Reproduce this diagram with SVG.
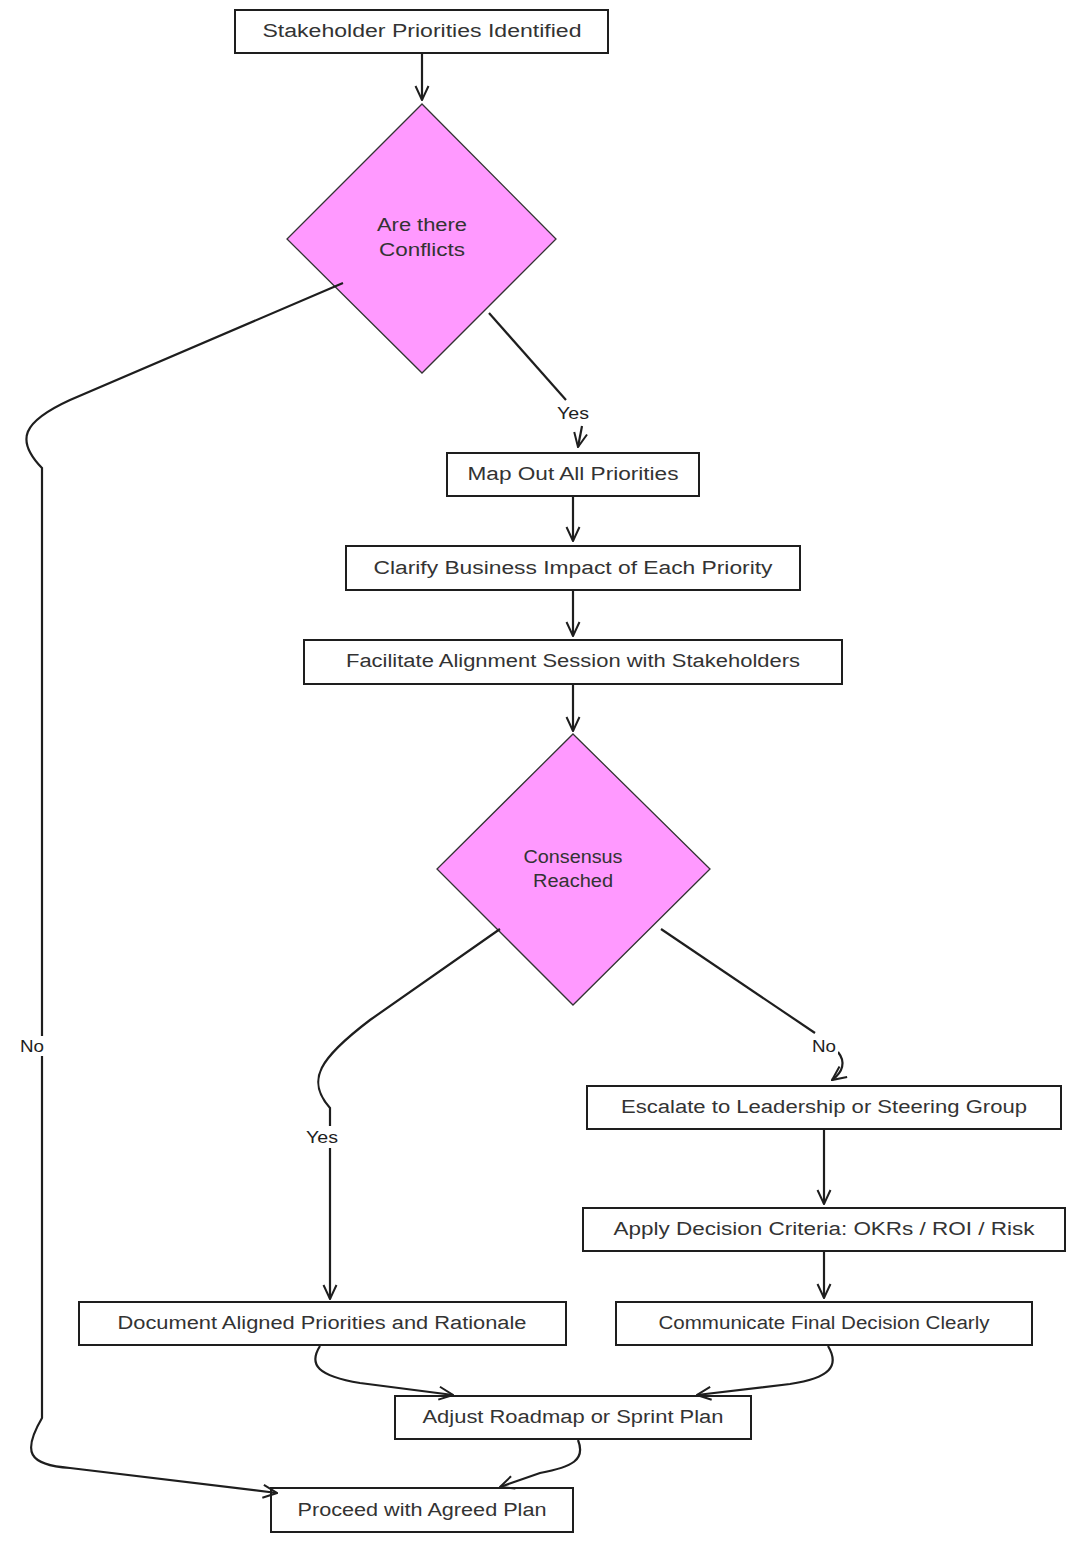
<svg xmlns="http://www.w3.org/2000/svg" width="1075" height="1543" viewBox="0 0 1075 1543">
<defs>
<style>
.box{fill:#ffffff;stroke:#1e1e1e;stroke-width:2}
.dia{fill:#ff99ff;stroke:#333333;stroke-width:1.3}
.lbl{font-family:"Liberation Sans",Arial,sans-serif;font-size:18px;fill:#333333;text-anchor:middle;dominant-baseline:central}
.elbl{font-family:"Liberation Sans",Arial,sans-serif;font-size:17px;fill:#1e1e1e;text-anchor:middle;dominant-baseline:central}
.edge{fill:none;stroke:#1e1e1e;stroke-width:2.2}
.bg{fill:#ffffff}
</style>
<marker id="arr" viewBox="0 0 16 16" refX="15" refY="8" markerWidth="16" markerHeight="16" markerUnits="userSpaceOnUse" orient="auto">
<path d="M1,1.5 L15,8 L1,14.5" fill="none" stroke="#1e1e1e" stroke-width="2"/>
</marker>
</defs>
<rect width="1075" height="1543" fill="#ffffff"/>

<g id="n1">
<rect class="box" x="235" y="10" width="373" height="43"/>
<text class="lbl" x="422" y="31" textLength="319" lengthAdjust="spacingAndGlyphs">Stakeholder Priorities Identified</text>
</g>
<g id="d1">
<polygon class="dia" points="422,104 556,239 422,373 287,239"/>
<text class="lbl" x="422" y="225" textLength="90" lengthAdjust="spacingAndGlyphs">Are there</text>
<text class="lbl" x="422" y="250" textLength="86" lengthAdjust="spacingAndGlyphs">Conflicts</text>
</g>
<g id="n2">
<rect class="box" x="447" y="453" width="252" height="43"/>
<text class="lbl" x="573" y="474" textLength="211" lengthAdjust="spacingAndGlyphs">Map Out All Priorities</text>
</g>
<g id="n3">
<rect class="box" x="346" y="546" width="454" height="44"/>
<text class="lbl" x="573" y="568" textLength="399" lengthAdjust="spacingAndGlyphs">Clarify Business Impact of Each Priority</text>
</g>
<g id="n4">
<rect class="box" x="304" y="640" width="538" height="44"/>
<text class="lbl" x="573" y="661" textLength="454" lengthAdjust="spacingAndGlyphs">Facilitate Alignment Session with Stakeholders</text>
</g>
<g id="d2">
<polygon class="dia" points="573,734 710,869 573,1005 437,869"/>
<text class="lbl" x="573" y="857" textLength="99" lengthAdjust="spacingAndGlyphs">Consensus</text>
<text class="lbl" x="573" y="881" textLength="80" lengthAdjust="spacingAndGlyphs">Reached</text>
</g>
<g id="n5">
<rect class="box" x="587" y="1086" width="474" height="43"/>
<text class="lbl" x="824" y="1107" textLength="406" lengthAdjust="spacingAndGlyphs">Escalate to Leadership or Steering Group</text>
</g>
<g id="n6">
<rect class="box" x="583" y="1208" width="482" height="43"/>
<text class="lbl" x="824" y="1229" textLength="421" lengthAdjust="spacingAndGlyphs">Apply Decision Criteria: OKRs / ROI / Risk</text>
</g>
<g id="n7">
<rect class="box" x="616" y="1302" width="416" height="43"/>
<text class="lbl" x="824" y="1323" textLength="331" lengthAdjust="spacingAndGlyphs">Communicate Final Decision Clearly</text>
</g>
<g id="n8">
<rect class="box" x="79" y="1302" width="487" height="43"/>
<text class="lbl" x="322" y="1323" textLength="409" lengthAdjust="spacingAndGlyphs">Document Aligned Priorities and Rationale</text>
</g>
<g id="n9">
<rect class="box" x="395" y="1396" width="356" height="43"/>
<text class="lbl" x="573" y="1417" textLength="301" lengthAdjust="spacingAndGlyphs">Adjust Roadmap or Sprint Plan</text>
</g>
<g id="n10">
<rect class="box" x="271" y="1488" width="302" height="44"/>
<text class="lbl" x="422" y="1510" textLength="249" lengthAdjust="spacingAndGlyphs">Proceed with Agreed Plan</text>
</g>

<g id="connectors">
<path class="edge" d="M422,54 L422,100" marker-end="url(#arr)"/>
<path class="edge" d="M489,313 L566,400"/>
<path class="edge" d="M582,426 L578,447" marker-end="url(#arr)"/>
<path class="edge" d="M573,497 L573,541" marker-end="url(#arr)"/>
<path class="edge" d="M573,591 L573,636" marker-end="url(#arr)"/>
<path class="edge" d="M573,685 L573,731" marker-end="url(#arr)"/>
<path class="edge" d="M500,929 L370,1020 C320,1058 305,1080 330,1108 L330,1299" marker-end="url(#arr)"/>
<path class="edge" d="M661,929 L815,1033"/>
<path class="edge" d="M838,1052 C846,1062 843,1072 832,1080" marker-end="url(#arr)"/>
<path class="edge" d="M824,1130 L824,1204" marker-end="url(#arr)"/>
<path class="edge" d="M824,1252 L824,1298" marker-end="url(#arr)"/>
<path class="edge" d="M320,1346 C308,1365 318,1376 360,1383 L453,1395" marker-end="url(#arr)"/>
<path class="edge" d="M828,1346 C840,1366 830,1378 790,1384 L697,1395" marker-end="url(#arr)"/>
<path class="edge" d="M578,1440 C586,1460 572,1467 540,1473 L500,1487" marker-end="url(#arr)"/>
<path class="edge" d="M343,283 L70,400 C22,422 15,440 42,468 L42,1418 C22,1452 28,1465 70,1468 L277,1493" marker-end="url(#arr)"/>
<rect class="bg" x="555" y="402" width="36" height="22"/>
<text class="elbl" x="573" y="413" textLength="32" lengthAdjust="spacingAndGlyphs">Yes</text>
<rect class="bg" x="304" y="1126" width="36" height="22"/>
<text class="elbl" x="322" y="1137" textLength="32" lengthAdjust="spacingAndGlyphs">Yes</text>
<rect class="bg" x="810" y="1036" width="28" height="20"/>
<text class="elbl" x="824" y="1046" textLength="24" lengthAdjust="spacingAndGlyphs">No</text>
<rect class="bg" x="18" y="1036" width="28" height="20"/>
<text class="elbl" x="32" y="1046" textLength="24" lengthAdjust="spacingAndGlyphs">No</text>
</g>
</svg>
